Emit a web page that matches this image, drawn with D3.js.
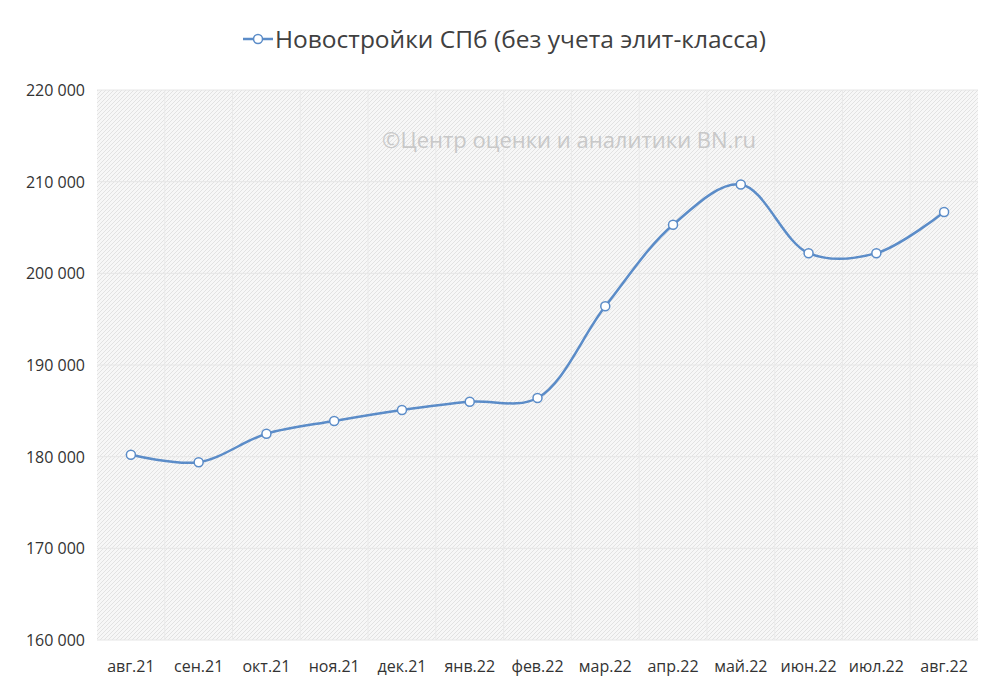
<!DOCTYPE html><html><head><meta charset="utf-8"><script src="https://cdn.jsdelivr.net/npm/d3@7"></script>
<style>body{margin:0;background:#fff}text{font-family:"Open Sans","Liberation Sans",sans-serif}</style></head><body><svg id="c" width="994" height="698"></svg>
<script>
const categories=["авг.21","сен.21","окт.21","ноя.21","дек.21","янв.22","фев.22","мар.22","апр.22","май.22","июн.22","июл.22","авг.22"];
const values=[180200,179400,182500,183900,185100,186000,186400,196400,205300,209700,202200,202200,206700];
const yTicks=[160000,170000,180000,190000,200000,210000,220000];
const seriesName="Новостройки СПб (без учета элит-класса)";
const svg=d3.select("#c");
const m={l:97,r:978,t:90,b:640};
const x=d3.scaleBand().domain(categories).range([m.l,m.r]);
const y=d3.scaleLinear().domain([160000,220000]).range([m.b,m.t]);
const defs=svg.append("defs");
const p=defs.append("pattern").attr("id","h").attr("width",4).attr("height",4).attr("patternUnits","userSpaceOnUse");
p.append("rect").attr("width",4).attr("height",4).attr("fill","#f7f7f7");
p.append("path").attr("d","M-1,1 l2,-2 M0,4 l4,-4 M3,5 l2,-2").attr("stroke","#e2e2e2").attr("stroke-width",1);
svg.append("rect").attr("x",m.l).attr("y",m.t).attr("width",m.r-m.l).attr("height",m.b-m.t).attr("fill","url(#h)");
svg.append("g").selectAll("line").data(yTicks).join("line").attr("x1",m.l).attr("x2",m.r).attr("y1",d=>y(d)).attr("y2",d=>y(d)).attr("stroke","#e6e6e6");
svg.append("g").selectAll("line").data(categories.slice(1)).join("line").attr("x1",d=>x(d)).attr("x2",d=>x(d)).attr("y1",m.t).attr("y2",m.b).attr("stroke","#eaeaea");
const fmt=d=>d3.format(",")(d).replace(/,/g," ");
svg.append("g").selectAll("text").data(yTicks).join("text").attr("x",m.l-12).attr("y",d=>y(d)+6).attr("text-anchor","end").attr("font-size",16).attr("fill","#333").text(fmt);
svg.append("g").selectAll("text").data(categories).join("text").attr("x",d=>x(d)+x.bandwidth()/2).attr("y",672).attr("text-anchor","middle").attr("font-size",16).attr("fill","#333").text(d=>d);
svg.append("text").attr("x",569).attr("y",148).attr("text-anchor","middle").attr("font-size",22).attr("fill","#c8c8c8").text("©Центр оценки и аналитики BN.ru");
const pts=values.map((v,i)=>[x(categories[i])+x.bandwidth()/2,y(v)]);
svg.append("path").attr("d",d3.line().curve(d3.curveCatmullRom.alpha(0.5))(pts)).attr("fill","none").attr("stroke","#5b8cc8").attr("stroke-width",2.5);
svg.append("g").selectAll("circle").data(pts).join("circle").attr("cx",d=>d[0]).attr("cy",d=>d[1]).attr("r",4.5).attr("fill","#fff").attr("stroke","#5b8cc8").attr("stroke-width",1.5);
svg.append("line").attr("x1",243).attr("x2",273).attr("y1",39).attr("y2",39).attr("stroke","#5b8cc8").attr("stroke-width",2.5);
svg.append("circle").attr("cx",258).attr("cy",39).attr("r",4.5).attr("fill","#fff").attr("stroke","#5b8cc8").attr("stroke-width",1.5);
svg.append("text").attr("x",275).attr("y",48).attr("font-size",24.5).attr("fill","#404040").text(seriesName);
</script></body></html>
